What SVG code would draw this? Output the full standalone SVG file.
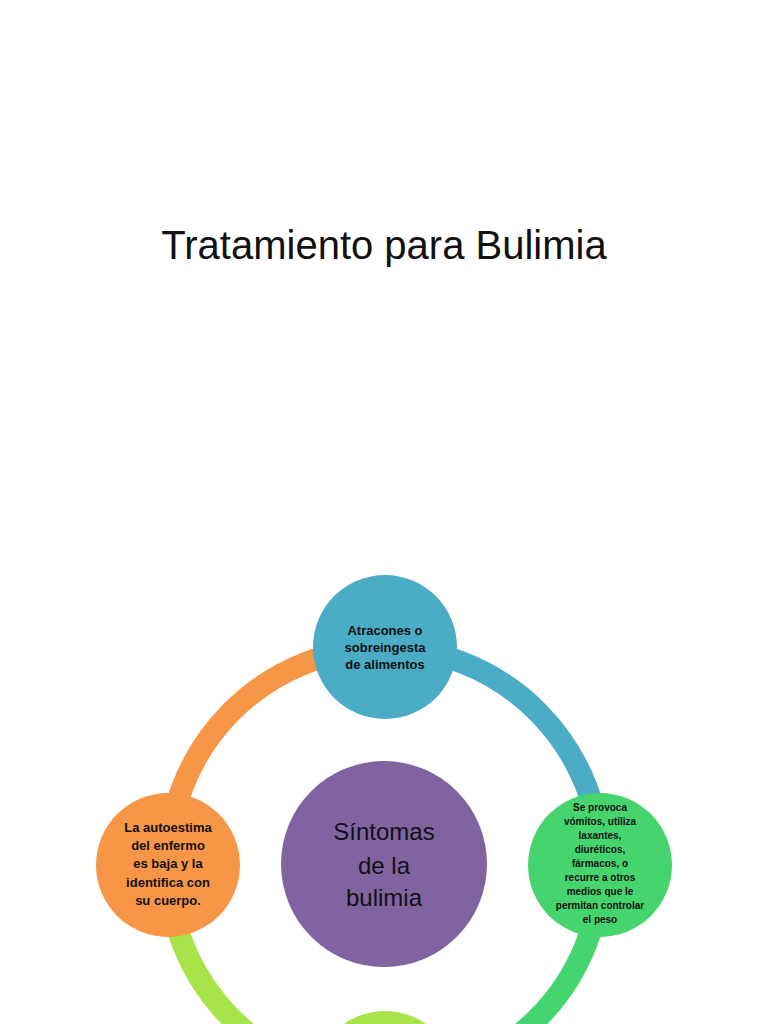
<svg xmlns="http://www.w3.org/2000/svg" width="768" height="1024" viewBox="0 0 768 1024">
<style>
.arc{fill:none;stroke-width:22}
.t{font-family:"Liberation Sans",Arial,sans-serif;text-anchor:middle;fill:#111}
.b{font-weight:bold}
</style>
<rect width="768" height="1024" fill="#fff"/>
<text class="t" x="384" y="259" font-size="40">Tratamiento para Bulimia</text>
<g id="connectors">
<path class="arc" stroke="#F79646" d="M168,865 A217,217 0 0 1 385,648"/>
<path class="arc" stroke="#4BACC6" d="M385,648 A217,217 0 0 1 601,865"/>
<path class="arc" stroke="#44D570" d="M601,865 A217,217 0 0 1 385,1082"/>
<path class="arc" stroke="#A8E449" d="M385,1082 A217,217 0 0 1 168,865"/>
</g>
<g id="center"><circle cx="384" cy="864" r="103" fill="#8064A2"/>
<text class="t" font-size="24"><tspan x="384" y="840">Síntomas</tspan><tspan x="384" y="874">de la</tspan><tspan x="384" y="906">bulimia</tspan></text></g>
<g id="top"><circle cx="385" cy="647" r="72" fill="#4BACC6"/>
<text class="t b" font-size="13"><tspan x="385" y="635">Atracones o</tspan><tspan x="385" y="652">sobreingesta</tspan><tspan x="385" y="669">de alimentos</tspan></text></g>
<g id="left"><circle cx="168" cy="865" r="72" fill="#F79646"/>
<text class="t b" font-size="13"><tspan x="168" y="832">La autoestima</tspan><tspan x="168" y="850">del enfermo</tspan><tspan x="168" y="868">es baja y la</tspan><tspan x="168" y="887">identifica con</tspan><tspan x="168" y="905">su cuerpo.</tspan></text></g>
<g id="right"><circle cx="600" cy="865" r="72" fill="#45D46E"/>
<text class="t b" font-size="10"><tspan x="600" y="811">Se provoca</tspan><tspan x="600" y="825">vómitos, utiliza</tspan><tspan x="600" y="839">laxantes,</tspan><tspan x="600" y="853">diuréticos,</tspan><tspan x="600" y="867">fármacos, o</tspan><tspan x="600" y="881">recurre a otros</tspan><tspan x="600" y="895">medios que le</tspan><tspan x="600" y="909">permitan controlar</tspan><tspan x="600" y="923">el peso</tspan></text></g>
<g id="bottom"><circle cx="385" cy="1083" r="72" fill="#A8E449"/></g>
</svg>
